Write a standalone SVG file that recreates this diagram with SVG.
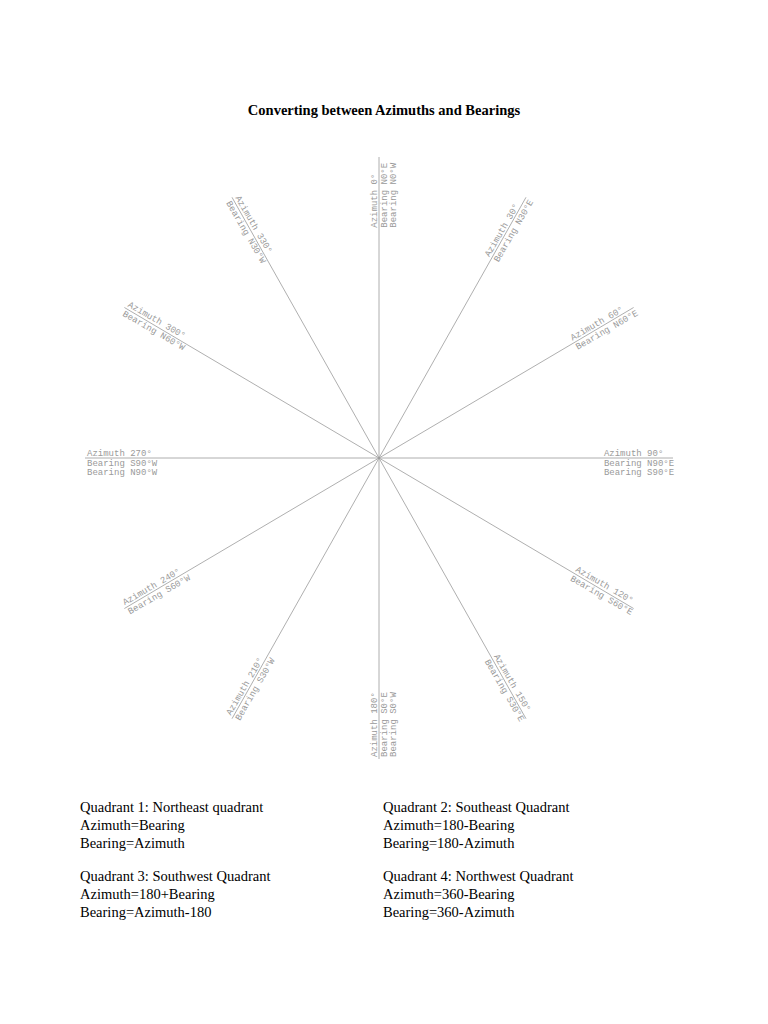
<svg xmlns="http://www.w3.org/2000/svg" width="768" height="1024" viewBox="0 0 768 1024">
<style>
.ray{stroke:#9a9a9a;stroke-width:0.8;fill:none}
.lb{font-family:"Liberation Mono","DejaVu Sans Mono",monospace;font-size:9px;fill:#9a9a9a}
.t{font-family:"Liberation Serif","Times New Roman",serif;font-size:14.5px;fill:#000}
.title{font-family:"Liberation Serif","Times New Roman",serif;font-size:14.5px;font-weight:bold;fill:#000}
</style>
<rect width="768" height="1024" fill="#fff"/>
<text class="title" x="384" y="115" text-anchor="middle">Converting between Azimuths and Bearings</text>
<g id="connectors">
<line class="ray" x1="379" y1="458" x2="379" y2="157"/>
<line class="ray" x1="379" y1="458" x2="526" y2="197.3"/>
<line class="ray" x1="379" y1="458" x2="633.6" y2="307.5"/>
<line class="ray" x1="379" y1="458" x2="673" y2="458"/>
<line class="ray" x1="379" y1="458" x2="633.6" y2="608.5"/>
<line class="ray" x1="379" y1="458" x2="526" y2="718.7"/>
<line class="ray" x1="379" y1="458" x2="379" y2="759"/>
<line class="ray" x1="379" y1="458" x2="232" y2="718.7"/>
<line class="ray" x1="379" y1="458" x2="124.4" y2="608.5"/>
<line class="ray" x1="379" y1="458" x2="85" y2="458"/>
<line class="ray" x1="379" y1="458" x2="124.4" y2="307.5"/>
<line class="ray" x1="379" y1="458" x2="232" y2="197.3"/>
</g>
<g id="az0" transform="translate(379,227.7) rotate(-90)"><text class="lb" y="-2.5">Azimuth 0°</text><text class="lb" y="8">Bearing N0°E</text><text class="lb" y="16.5">Bearing N0°W</text></g>
<g id="az30" transform="translate(491.5,258.6) rotate(-60)"><text class="lb" y="-2.5">Azimuth 30°</text><text class="lb" y="8">Bearing N30°E</text></g>
<g id="az60" transform="translate(573.8,342.9) rotate(-30)"><text class="lb" y="-2.5">Azimuth 60°</text><text class="lb" y="8">Bearing N60°E</text></g>
<g id="az90" transform="translate(603.9,458)"><text class="lb" y="-2.5">Azimuth 90°</text><text class="lb" y="8">Bearing N90°E</text><text class="lb" y="16.5">Bearing S90°E</text></g>
<g id="az120" transform="translate(573.8,573.2) rotate(30)"><text class="lb" y="-2.5">Azimuth 120°</text><text class="lb" y="8">Bearing S60°E</text></g>
<g id="az150" transform="translate(491.5,657.4) rotate(60)"><text class="lb" y="-2.5">Azimuth 150°</text><text class="lb" y="8">Bearing S30°E</text></g>
<g id="az180" transform="translate(379,757) rotate(-90)"><text class="lb" y="-2.5">Azimuth 180°</text><text class="lb" y="8">Bearing S0°E</text><text class="lb" y="16.5">Bearing S0°W</text></g>
<g id="az210" transform="translate(233,716.9) rotate(-60)"><text class="lb" y="-2.5">Azimuth 210°</text><text class="lb" y="8">Bearing S30°W</text></g>
<g id="az240" transform="translate(126.1,607.5) rotate(-30)"><text class="lb" y="-2.5">Azimuth 240°</text><text class="lb" y="8">Bearing S60°W</text></g>
<g id="az270" transform="translate(87,458)"><text class="lb" y="-2.5">Azimuth 270°</text><text class="lb" y="8">Bearing S90°W</text><text class="lb" y="16.5">Bearing N90°W</text></g>
<g id="az300" transform="translate(126.1,308.5) rotate(30)"><text class="lb" y="-2.5">Azimuth 300°</text><text class="lb" y="8">Bearing N60°W</text></g>
<g id="az330" transform="translate(233,199.1) rotate(60)"><text class="lb" y="-2.5">Azimuth 330°</text><text class="lb" y="8">Bearing N30°W</text></g>
<g id="notes">
<text class="t" x="80" y="812">Quadrant 1: Northeast quadrant</text>
<text class="t" x="80" y="830">Azimuth=Bearing</text>
<text class="t" x="80" y="848">Bearing=Azimuth</text>
<text class="t" x="80" y="881">Quadrant 3: Southwest Quadrant</text>
<text class="t" x="80" y="899">Azimuth=180+Bearing</text>
<text class="t" x="80" y="917">Bearing=Azimuth-180</text>
<text class="t" x="383" y="812">Quadrant 2: Southeast Quadrant</text>
<text class="t" x="383" y="830">Azimuth=180-Bearing</text>
<text class="t" x="383" y="848">Bearing=180-Azimuth</text>
<text class="t" x="383" y="881">Quadrant 4: Northwest Quadrant</text>
<text class="t" x="383" y="899">Azimuth=360-Bearing</text>
<text class="t" x="383" y="917">Bearing=360-Azimuth</text>
</g>
</svg>
